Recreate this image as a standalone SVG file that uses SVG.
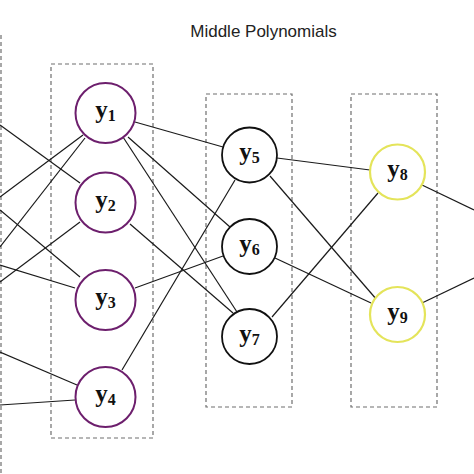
<svg xmlns="http://www.w3.org/2000/svg" width="474" height="474" viewBox="0 0 474 474">
<style>
.box{fill:none;stroke:#6e6e6e;stroke-width:1.2;stroke-dasharray:4 3}
.edge{stroke:#1a1a1a;stroke-width:1.2;fill:none}
.np{fill:#fff;stroke:#6d1f6d;stroke-width:2}
.nb{fill:#fff;stroke:#111;stroke-width:1.8}
.ny{fill:#fff;stroke:#e4e45a;stroke-width:2.2}
.lbl{font-family:"Liberation Serif",serif;font-weight:bold;font-size:25px;fill:#111}
.sub{font-size:16px}
.title{font-family:"Liberation Sans",Arial,sans-serif;font-size:17px;fill:#222}
</style>
<rect width="474" height="474" fill="#fff"/>
<text class="title" x="263.5" y="37" text-anchor="middle">Middle Polynomials</text>
<g id="boxes">
<line class="box" x1="1" y1="35" x2="1" y2="474" stroke="#aaa"/>
<rect class="box" x="51" y="64" width="102" height="374"/>
<rect class="box" x="206" y="94" width="86" height="313"/>
<rect class="box" x="351" y="94" width="86" height="313"/>
</g>
<g id="connectors">
<line class="edge" x1="0" y1="125" x2="80" y2="183"/>
<line class="edge" x1="83" y1="135" x2="0" y2="197"/>
<line class="edge" x1="85" y1="138" x2="0" y2="247"/>
<line class="edge" x1="0" y1="210" x2="80" y2="277"/>
<line class="edge" x1="80" y1="222" x2="0" y2="282"/>
<line class="edge" x1="0" y1="265" x2="75" y2="288"/>
<line class="edge" x1="0" y1="352" x2="77" y2="385"/>
<line class="edge" x1="0" y1="405" x2="75" y2="400"/>
<line class="edge" x1="135" y1="122" x2="223" y2="147"/>
<line class="edge" x1="128" y1="137" x2="230" y2="227"/>
<line class="edge" x1="123" y1="137" x2="237" y2="312"/>
<line class="edge" x1="130" y1="224" x2="233" y2="313"/>
<line class="edge" x1="135" y1="288" x2="223" y2="256"/>
<line class="edge" x1="122" y1="370" x2="235" y2="180"/>
<line class="edge" x1="277" y1="158" x2="370" y2="170"/>
<line class="edge" x1="270" y1="176" x2="377" y2="300"/>
<line class="edge" x1="275" y1="258" x2="371" y2="303"/>
<line class="edge" x1="272" y1="317" x2="378" y2="193"/>
<line class="edge" x1="422" y1="185" x2="474" y2="210"/>
<line class="edge" x1="422" y1="303" x2="474" y2="278"/>
</g>
<g id="y1"><circle class="np" cx="105.5" cy="113" r="30"/><text class="lbl" x="105.5" y="118" text-anchor="middle">y<tspan class="sub" dy="3">1</tspan></text></g>
<g id="y2"><circle class="np" cx="105.5" cy="202.5" r="30"/><text class="lbl" x="105.5" y="207.5" text-anchor="middle">y<tspan class="sub" dy="3">2</tspan></text></g>
<g id="y3"><circle class="np" cx="105.5" cy="300" r="30"/><text class="lbl" x="105.5" y="305" text-anchor="middle">y<tspan class="sub" dy="3">3</tspan></text></g>
<g id="y4"><circle class="np" cx="105.5" cy="397" r="30"/><text class="lbl" x="105.5" y="402" text-anchor="middle">y<tspan class="sub" dy="3">4</tspan></text></g>
<g id="y5"><circle class="nb" cx="249.5" cy="155" r="27.5"/><text class="lbl" x="249.5" y="160" text-anchor="middle">y<tspan class="sub" dy="3">5</tspan></text></g>
<g id="y6"><circle class="nb" cx="249.5" cy="246.5" r="27.5"/><text class="lbl" x="249.5" y="251.5" text-anchor="middle">y<tspan class="sub" dy="3">6</tspan></text></g>
<g id="y7"><circle class="nb" cx="249.5" cy="336.5" r="27.5"/><text class="lbl" x="249.5" y="341.5" text-anchor="middle">y<tspan class="sub" dy="3">7</tspan></text></g>
<g id="y8"><circle class="ny" cx="397.5" cy="172" r="27.5"/><text class="lbl" x="397.5" y="177" text-anchor="middle">y<tspan class="sub" dy="3">8</tspan></text></g>
<g id="y9"><circle class="ny" cx="397.5" cy="314.5" r="27.5"/><text class="lbl" x="397.5" y="319.5" text-anchor="middle">y<tspan class="sub" dy="3">9</tspan></text></g>
</svg>
